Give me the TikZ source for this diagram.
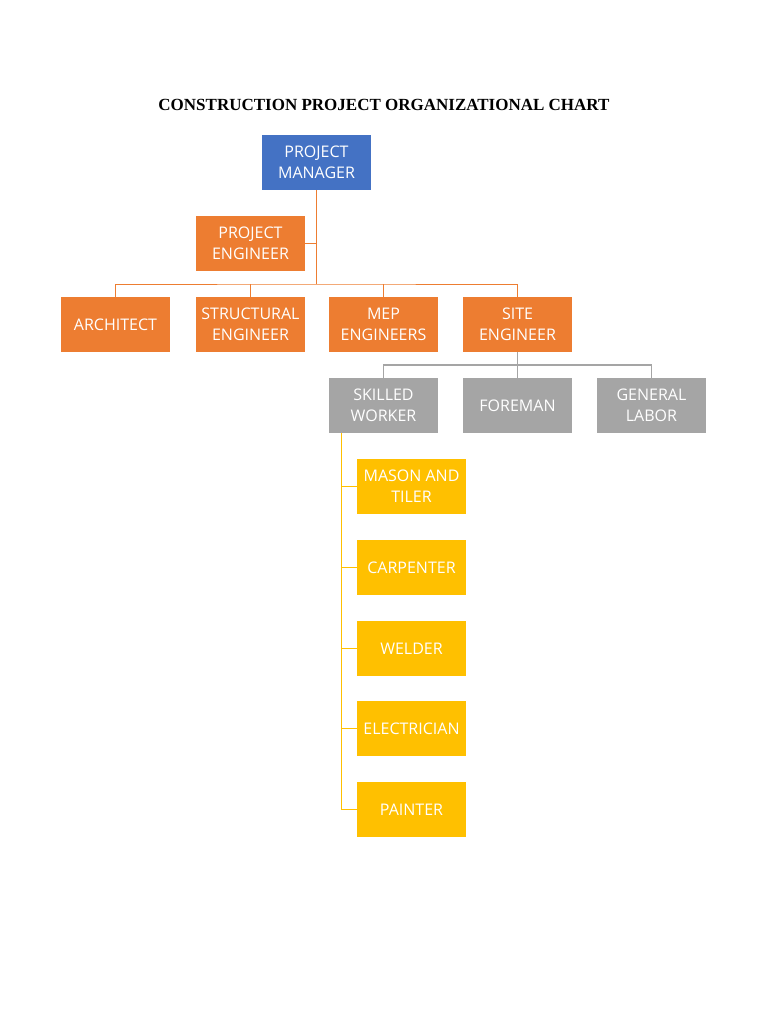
\documentclass[tikz,border=0pt]{standalone}
\usepackage{fontspec}
\setmainfont{Liberation Serif}
\newfontfamily\boxfont{Open Sans}
\definecolor{cblue}{HTML}{4472C4}
\definecolor{corange}{HTML}{ED7D31}
\definecolor{cgray}{HTML}{A5A5A5}
\definecolor{cyellow}{HTML}{FFC000}
\begin{document}
\begin{tikzpicture}[x=1pt,y=-1pt,
  bx/.style={minimum width=109pt,minimum height=55pt,inner sep=0pt,text=white,align=center,
    font=\boxfont\fontsize{16}{21}\selectfont},
  bl/.style={bx,fill=cblue},
  orb/.style={bx,fill=corange},
  grb/.style={bx,fill=cgray},
  ylb/.style={bx,fill=cyellow},
  ol/.style={draw=corange,line width=1pt},
  gl/.style={draw=cgray,line width=1.2pt},
  yl/.style={draw=cyellow,line width=1pt}]
\useasboundingbox[fill=white] (0,0) rectangle (768,1024);
\node[font=\bfseries\fontsize{17}{20}\selectfont] (title) at (384,105) {CONSTRUCTION PROJECT ORGANIZATIONAL CHART};
\node[bl] (pm) at (316.5,162.5) {PROJECT\\MANAGER};
\node[orb] (pe) at (250.5,243.5) {PROJECT\\ENGINEER};
\node[orb] (ar) at (115.5,324.5) {ARCHITECT};
\node[orb] (se) at (250.5,324.5) {STRUCTURAL\\ENGINEER};
\node[orb] (mep) at (383.5,324.5) {MEP\\ENGINEERS};
\node[orb] (site) at (517.5,324.5) {SITE\\ENGINEER};
\node[grb] (sk) at (383.5,405.5) {SKILLED\\WORKER};
\node[grb] (fo) at (517.5,405.5) {FOREMAN};
\node[grb] (gl) at (651.5,405.5) {GENERAL\\LABOR};
\node[ylb] (y1) at (411.5,486.5) {MASON AND\\TILER};
\node[ylb] (y2) at (411.5,567.5) {CARPENTER};
\node[ylb] (y3) at (411.5,648.5) {WELDER};
\node[ylb] (y4) at (411.5,728.5) {ELECTRICIAN};
\node[ylb] (y5) at (411.5,809.5) {PAINTER};
\coordinate (j1) at (316.5,284);
\draw[ol] (pm.south) -- (j1);
\draw[ol] (pe.east) -- (pe.east -| pm.south);
\draw[ol] (ar.north) |- (j1) -| (site.north);
\draw[ol] (se.north) -- (se.north |- j1);
\draw[ol] (mep.north) -- (mep.north |- j1);
\coordinate (j2) at (517.5,365);
\draw[gl] (site.south) -- (j2);
\draw[gl] (sk.north) |- (j2) -| (gl.north);
\draw[gl] (fo.north) -- (j2);
\coordinate (v) at (341,433);
\draw[yl] (sk.south -| v) |- (y5.west);
\foreach \n in {y1,y2,y3,y4} \draw[yl] (\n.west -| v) -- (\n.west);
\end{tikzpicture}
\end{document}
